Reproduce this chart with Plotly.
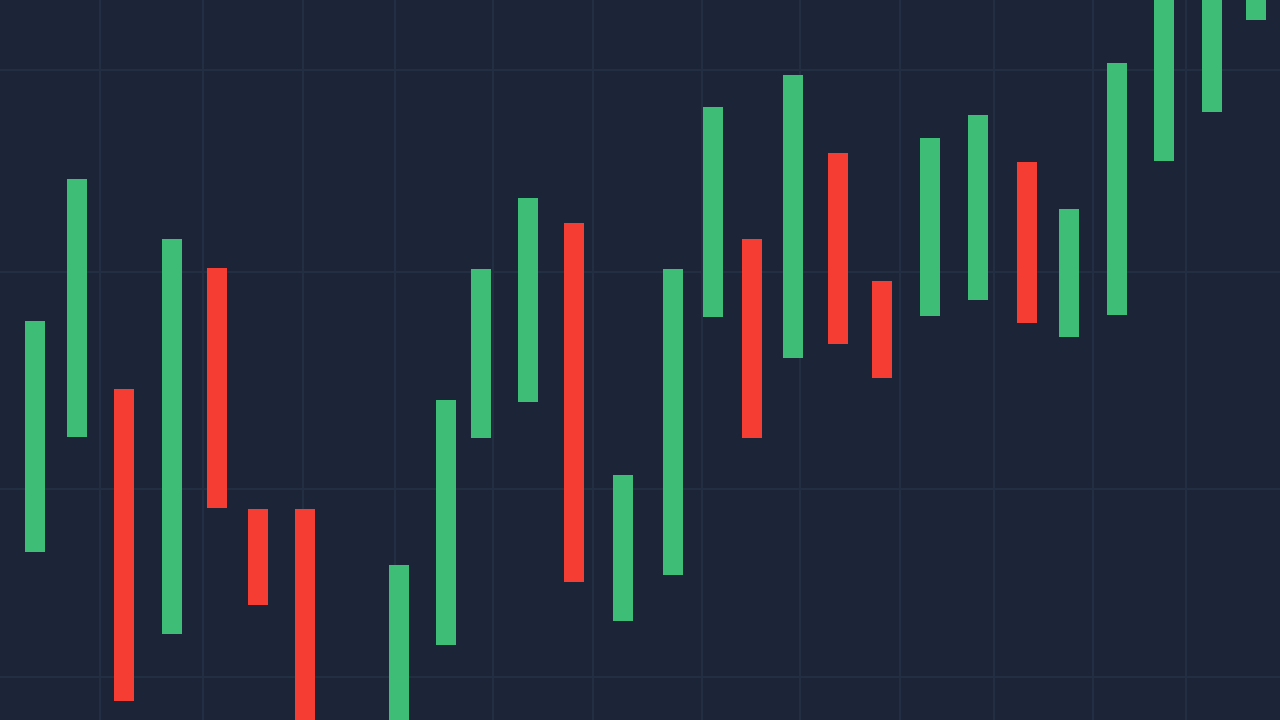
import plotly.graph_objects as go

# time positions of each candle (x axis units)
t = [35, 77, 124, 172, 217, 258, 305, 399, 446, 481, 528, 574, 623, 673,
     713, 752, 793, 838, 882, 930, 978, 1027, 1069, 1117, 1164, 1212, 1256]
# open / close prices
open_ = [16.8, 28.3, 33.1, 8.6, 45.2, 21.1, 21.1, -6.0, 7.5, 28.2, 31.8, 49.7, 9.9, 14.5,
         40.3, 48.1, 36.2, 56.7, 43.9, 40.4, 42.0, 55.8, 38.3, 40.5, 55.9, 60.8, 70.0]
close = [39.9, 54.1, 1.9, 48.1, 21.2, 11.5, -4.0, 15.5, 32.0, 45.1, 52.2, 13.8, 24.5, 45.1,
         61.3, 28.2, 64.5, 37.6, 34.2, 58.2, 60.5, 39.7, 51.1, 65.7, 76.0, 78.0, 80.0]

# grid positions
x_grid = [100, 203, 303, 395, 493, 593, 702, 800, 900, 994, 1093, 1186]
y_grid = [4.3, 23.1, 44.8, 65.0]

BG = "#1b2537"
GRID = "#222e41"
UP = "#3dbd76"
DOWN = "#f53d33"

base = [min(o, c) for o, c in zip(open_, close)]
height = [abs(c - o) for o, c in zip(open_, close)]
colors = [UP if c >= o else DOWN for o, c in zip(open_, close)]

fig = go.Figure(
    go.Bar(
        x=t,
        y=height,
        base=base,
        width=20,
        marker=dict(color=colors, line=dict(width=0)),
        hoverinfo="skip",
    )
)

fig.update_layout(
    width=1280,
    height=720,
    margin=dict(l=0, r=0, t=0, b=0),
    paper_bgcolor=BG,
    plot_bgcolor=BG,
    showlegend=False,
    xaxis=dict(
        range=[0, 1280],
        tickmode="array",
        tickvals=x_grid,
        showticklabels=False,
        showgrid=True,
        gridcolor=GRID,
        gridwidth=2,
        zeroline=False,
        showline=False,
        fixedrange=True,
    ),
    yaxis=dict(
        range=[0, 72],
        tickmode="array",
        tickvals=y_grid,
        showticklabels=False,
        showgrid=True,
        gridcolor=GRID,
        gridwidth=2,
        zeroline=False,
        showline=False,
        fixedrange=True,
    ),
)

fig.write_html(
    "out.html",
    config={"displayModeBar": False},
    post_script="document.body.style.margin='0';document.body.style.overflow='hidden';document.body.style.background='" + BG + "';",
)
